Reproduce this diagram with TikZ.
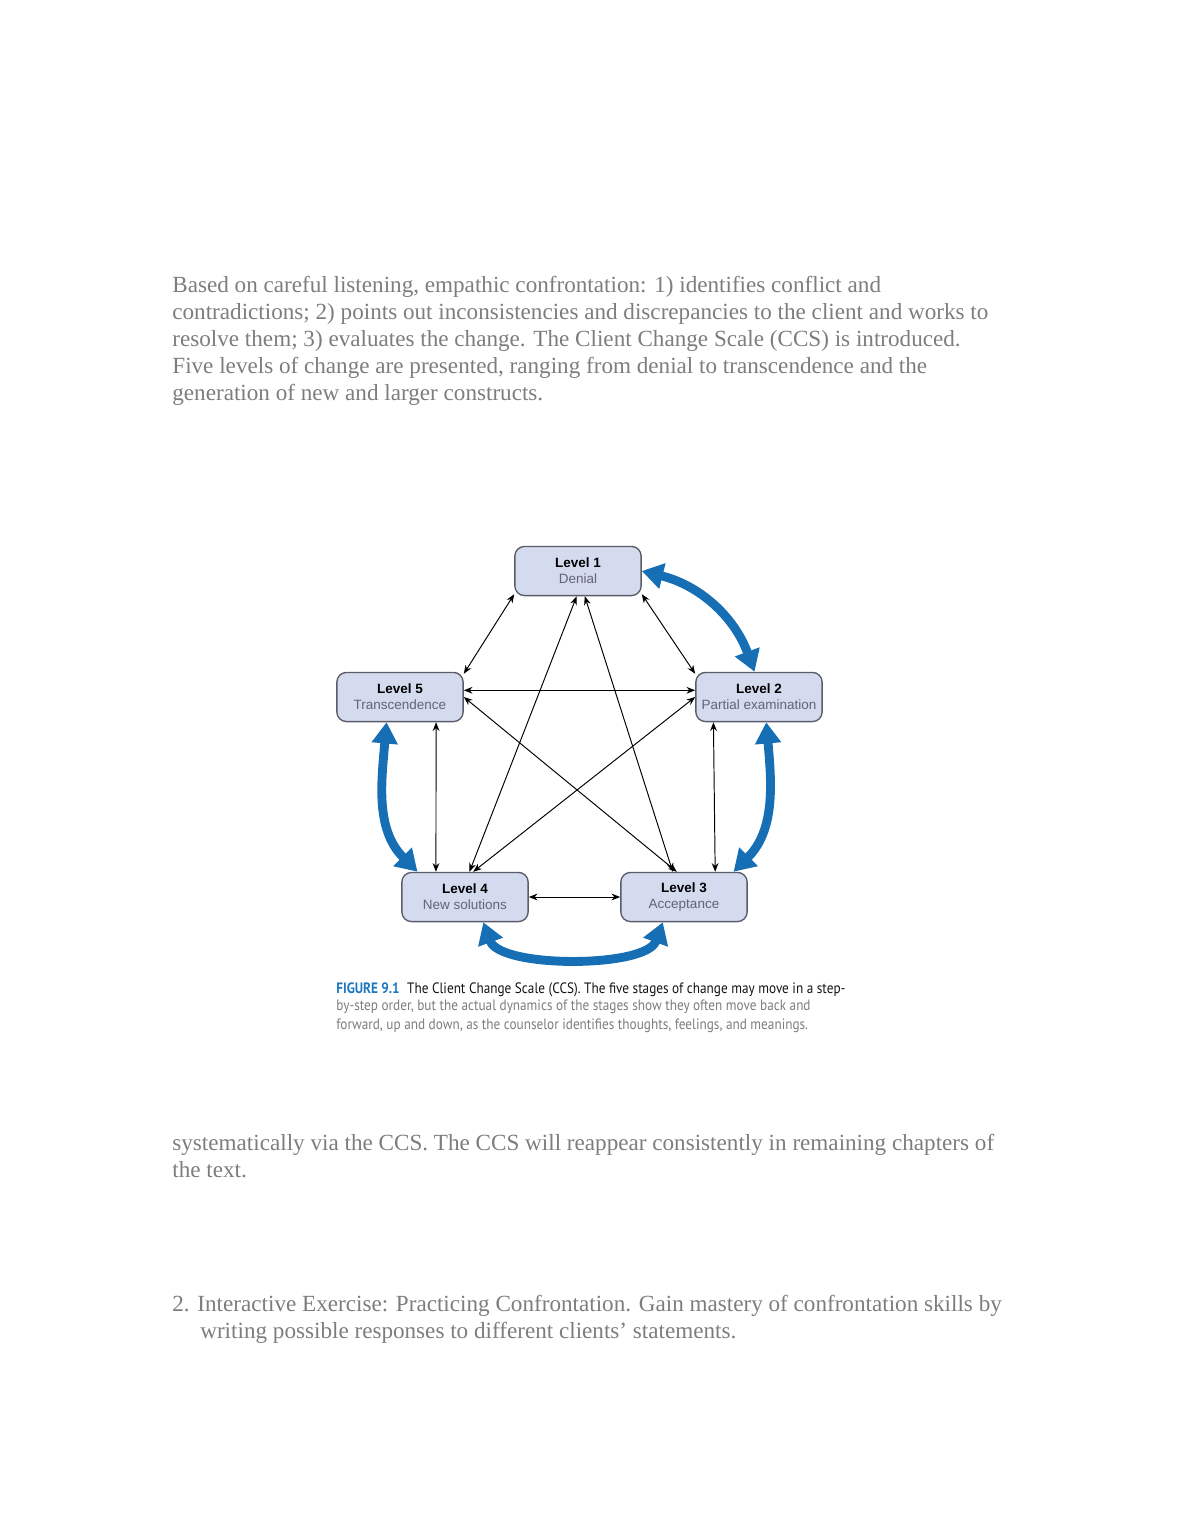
\documentclass[tikz,border=0pt]{standalone}
\usepackage{fontspec}
\setmainfont{Liberation Serif}
\newfontfamily\diagfont{Liberation Sans}
\newfontfamily\capfont[FakeStretch=0.88]{PT Sans}
\usetikzlibrary{arrows.meta,positioning}

\definecolor{boxfill}{RGB}{212,219,239}
\definecolor{boxline}{RGB}{90,92,104}
\definecolor{cyclblue}{RGB}{22,110,180}
\definecolor{subgrey}{RGB}{100,100,115}
\definecolor{blurtext}{RGB}{125,125,125}
\definecolor{figblue}{RGB}{30,120,190}
\definecolor{captext}{RGB}{20,20,20}

\begin{document}
\begin{tikzpicture}[x=0.5187pt,y=-0.5187pt,
    lvl/.style={draw=boxline,fill=boxfill,rounded corners=5pt,line width=0.7pt,
      minimum width=65.5pt,minimum height=25.5pt,align=center,inner sep=1pt,
      font=\diagfont\fontsize{7}{8.3}\selectfont},
    link/.style={line width=0.5pt,{Stealth[length=4.5pt,width=3.5pt]}-{Stealth[length=4.5pt,width=3.5pt]}},
    cycl/.style={cyclblue,line width=4.6pt,{Triangle[length=11pt,width=13pt]}-{Triangle[length=11pt,width=13pt]}},
    blur/.style={blurtext,anchor=base west,align=left,inner sep=0pt,font=\fontsize{12}{14}\selectfont}]
  \useasboundingbox (0,0) rectangle (1180,1527);
  % page text (base = last line)
  \node[blur] (intro) at (172,400) {Based on careful listening, empathic confrontation: 1) identifies conflict and\\
    contradictions; 2) points out inconsistencies and discrepancies to the client and works to\\
    resolve them; 3) evaluates the change. The Client Change Scale (CCS) is introduced.\\
    Five levels of change are presented, ranging from denial to transcendence and the\\
    generation of new and larger constructs.};
  \node[blur] (recap) at (172,1177) {systematically via the CCS. The CCS will reappear consistently in remaining chapters of\\
    the text.};
  \node[blur] (task) at (172,1338) {2. Interactive Exercise: Practicing Confrontation. Gain mastery of confrontation skills by\\
    \hspace*{14.5pt}writing possible responses to different clients' statements.};
  % the five levels
  \node[lvl] (l1) at (578,571) {\textbf{Level 1}\\\textcolor{subgrey}{Denial}};
  \node[lvl] (l5) at (400,697) {\textbf{Level 5}\\\textcolor{subgrey}{Transcendence}};
  \node[lvl] (l2) at (759,697) {\textbf{Level 2}\\\textcolor{subgrey}{Partial examination}};
  \node[lvl] (l4) at (465,897) {\textbf{Level 4}\\\textcolor{subgrey}{New solutions}};
  \node[lvl] (l3) at (684,897) {\textbf{Level 3}\\\textcolor{subgrey}{Acceptance}};
  \foreach \a/\b in {l1.200/l5.20, l1.340/l2.160, l1.267/l4.80, l1.285/l3.114, l5.6/l2.174,
    l5.325/l4.139, l2.209/l3.39, l5.east/l3.106, l2.west/l4.72, l4.east/l3.west}
    \draw[link] (\a) -- (\b);
  % step by step cycle
  \draw[cycl] (l1.east) to[bend left=28] (l2.100);
  \draw[cycl] (l2.286) to[out=-85,in=45] (l3.27);
  \draw[cycl] (l3.230) to[out=-110,in=-70,looseness=0.7] (l4.306);
  \draw[cycl] (l4.152) to[out=135,in=-95] (l5.242);
  % caption
  \node[anchor=base west,inner sep=0pt,text=captext,font=\capfont\fontsize{7.8}{9.4}\selectfont] (cap) at (336,993)
    {\textcolor{figblue}{\textbf{FIGURE 9.1}}\enspace The Client Change Scale (CCS). The five stages of change may move in a step-};
  \node[anchor=base west,align=left,inner sep=0pt,text=blurtext,font=\capfont\fontsize{7.8}{9.4}\selectfont] (capmore) at (336,1029)
    {by-step order, but the actual dynamics of the stages show they often move back and\\
    forward, up and down, as the counselor identifies thoughts, feelings, and meanings.};
\end{tikzpicture}
\end{document}
